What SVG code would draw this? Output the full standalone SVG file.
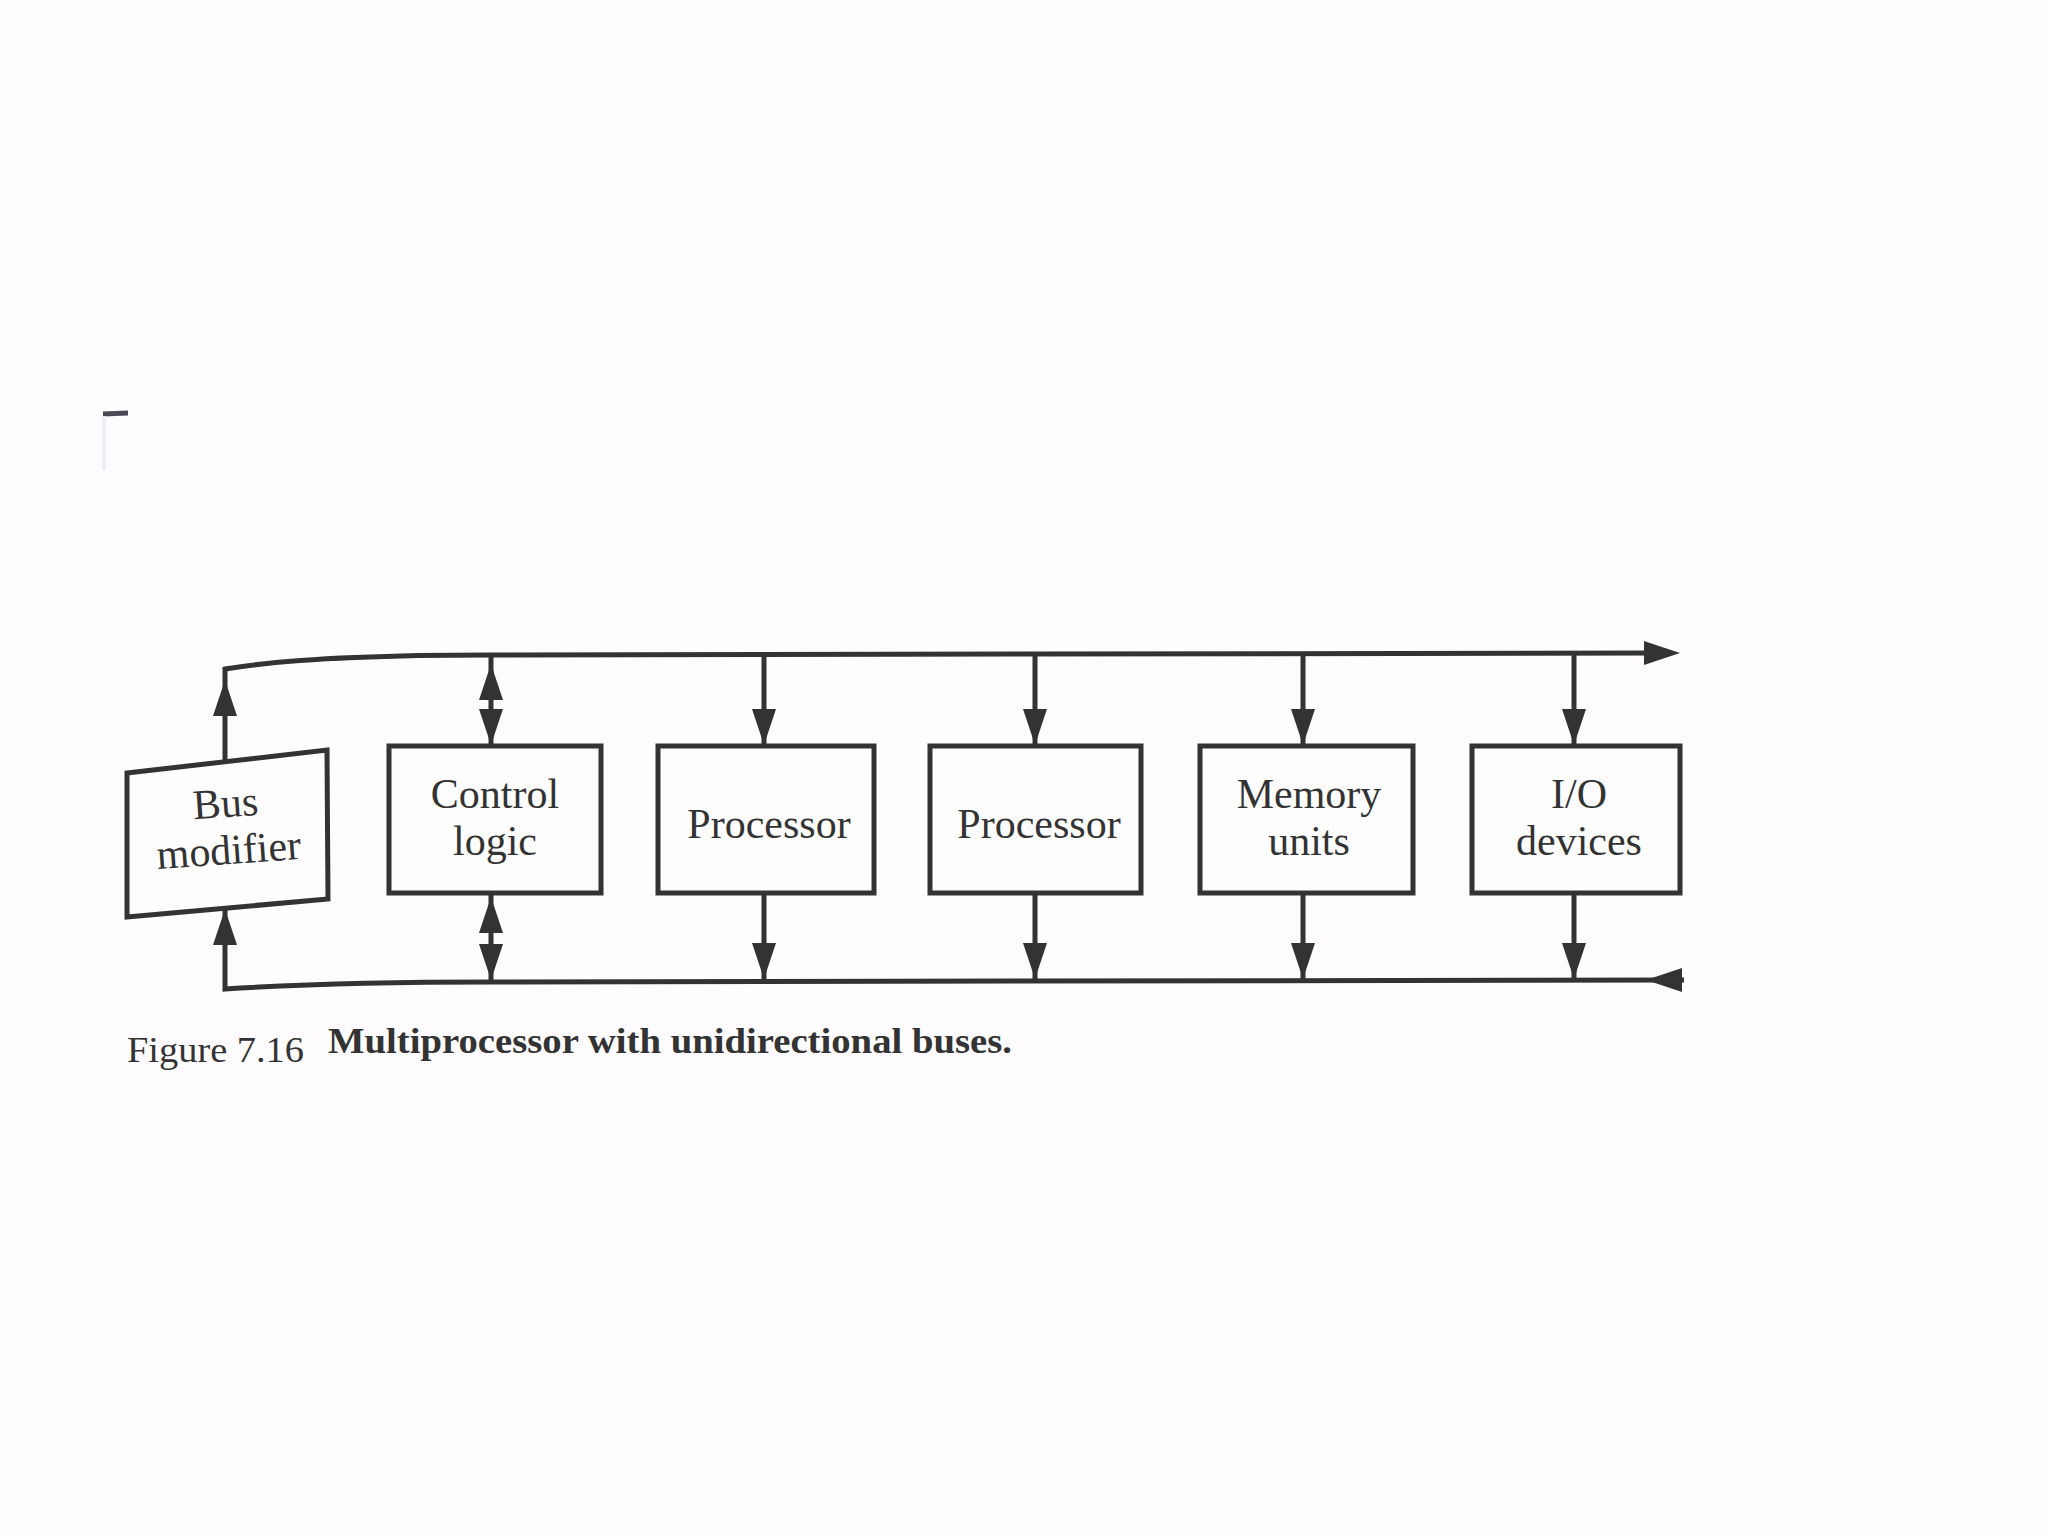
<svg xmlns="http://www.w3.org/2000/svg" width="2048" height="1536" viewBox="0 0 2048 1536">
<style>
.ln{fill:none;stroke:#333;stroke-width:5;stroke-linejoin:miter}
.bx{fill:#fefdfe;stroke:#333;stroke-width:5}
.lb{font-family:"Liberation Serif","Times New Roman",serif;font-size:42px;fill:#333;text-anchor:middle}
.cap{font-family:"Liberation Serif","Times New Roman",serif;font-size:36px;fill:#333}
.ah{fill:#333}
</style>
<defs>
<path id="ah" d="M0,0 L-12,-36 L12,-36 Z"/>
</defs>
<rect width="2048" height="1536" fill="#fefcfe"/>
<path d="M103,414 L128,413" stroke="#4a4a55" stroke-width="5" fill="none"/>
<path d="M104,416 L104,470" stroke="#eeedf3" stroke-width="4" fill="none"/>
<g id="connectors">
<path class="ln" d="M225,760 L225,669 C290,658 380,655 491,655 L1660,653"/>
<use href="#ah" class="ah" transform="translate(1680,653) rotate(-90)"/>
<path class="ln" d="M225,906 L225,989 C290,985 380,982 491,982 L1684,980"/>
<use href="#ah" class="ah" transform="translate(1646,980) rotate(90)"/>
<use href="#ah" class="ah" transform="translate(225,680) rotate(180)"/>
<use href="#ah" class="ah" transform="translate(225,909) rotate(180)"/>
<path class="ln" d="M491,655 L491,746"/>
<use href="#ah" class="ah" transform="translate(491,664) rotate(180)"/>
<use href="#ah" class="ah" transform="translate(491,745)"/>
<path class="ln" d="M491,893 L491,982"/>
<use href="#ah" class="ah" transform="translate(491,897) rotate(180)"/>
<use href="#ah" class="ah" transform="translate(491,980)"/>
<path class="ln" d="M764,653 L764,746 M764,893 L764,980"/>
<use href="#ah" class="ah" transform="translate(764,745)"/>
<use href="#ah" class="ah" transform="translate(764,979)"/>
<path class="ln" d="M1035,653 L1035,746 M1035,893 L1035,980"/>
<use href="#ah" class="ah" transform="translate(1035,745)"/>
<use href="#ah" class="ah" transform="translate(1035,979)"/>
<path class="ln" d="M1303,653 L1303,746 M1303,893 L1303,980"/>
<use href="#ah" class="ah" transform="translate(1303,745)"/>
<use href="#ah" class="ah" transform="translate(1303,979)"/>
<path class="ln" d="M1574,653 L1574,746 M1574,893 L1574,980"/>
<use href="#ah" class="ah" transform="translate(1574,745)"/>
<use href="#ah" class="ah" transform="translate(1574,979)"/>
</g>
<g id="bus-modifier">
<path class="bx" d="M127,773 L327,750 L328,899 L127,917 Z"/>
<g transform="rotate(-4 228 840)">
<text class="lb" x="228" y="817">Bus</text>
<text class="lb" x="228" y="864">modifier</text>
</g>
</g>
<g id="control-logic">
<rect class="bx" x="389" y="746" width="212" height="147"/>
<text class="lb" x="495" y="808">Control</text>
<text class="lb" x="495" y="855">logic</text>
</g>
<g id="processor-1">
<rect class="bx" x="658" y="746" width="216" height="147"/>
<text class="lb" x="769" y="838">Processor</text>
</g>
<g id="processor-2">
<rect class="bx" x="930" y="746" width="211" height="147"/>
<text class="lb" x="1039" y="838">Processor</text>
</g>
<g id="memory-units">
<rect class="bx" x="1200" y="746" width="213" height="147"/>
<text class="lb" x="1309" y="808">Memory</text>
<text class="lb" x="1309" y="855">units</text>
</g>
<g id="io-devices">
<rect class="bx" x="1472" y="746" width="208" height="147"/>
<text class="lb" x="1579" y="808">I/O</text>
<text class="lb" x="1579" y="855">devices</text>
</g>
<g id="caption">
<text class="cap" x="127" y="1062" textLength="177" lengthAdjust="spacingAndGlyphs">Figure 7.16</text>
<text class="cap" x="328" y="1053" font-weight="bold" textLength="684" lengthAdjust="spacingAndGlyphs">Multiprocessor with unidirectional buses.</text>
</g>
</svg>
